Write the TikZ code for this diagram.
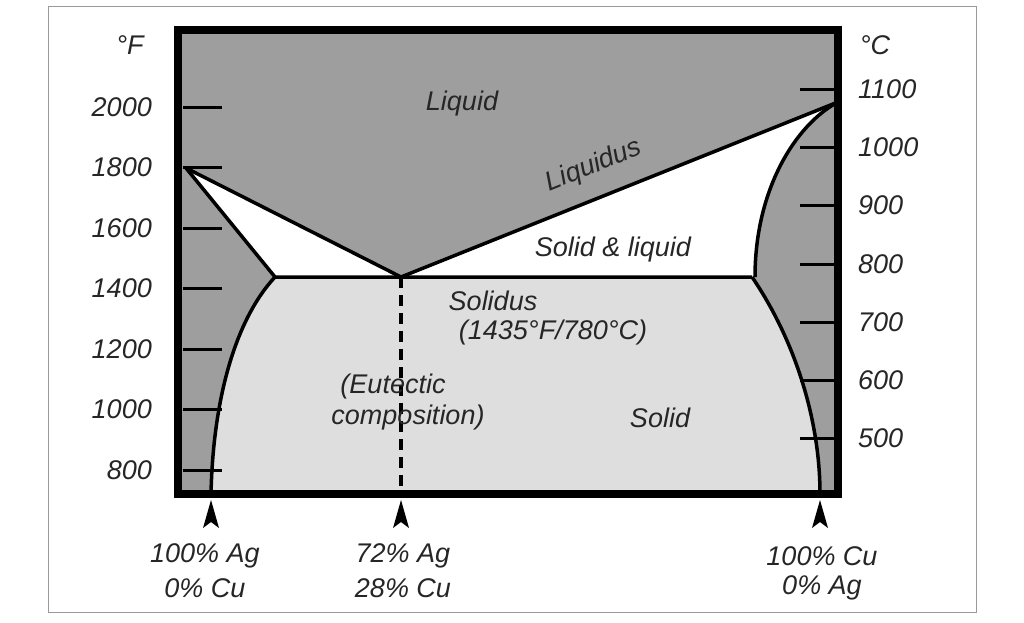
\documentclass[tikz,border=0pt]{standalone}
\usepackage{fontspec}
\setmainfont{Liberation Sans}
\begin{document}
\begin{tikzpicture}[x=1pt,y=-1pt,
  lbl/.style={font=\fontsize{27}{32}\selectfont\itshape,text=black!85,inner sep=0pt},
  ph/.style={line width=3.5pt,line join=round},
  tk/.style={line width=3pt},
  mk/.style={fill=black}]
\useasboundingbox (0,0) rectangle (1024,622);
\fill[white] (0,0) rectangle (1024,622);
\draw[black!40,line width=1pt] (48,6) rectangle (976,612);
% regions
\fill[black!38] (178,30) rectangle (838,494);
\fill[white] (186,168)--(401,277)--(275,277)--cycle;
\fill[white] (401,277)--(838,102) .. controls (795,125) and (755,190) .. (755,277) -- cycle;
\fill[black!13] (275,277)--(752,277) .. controls (795,340) and (820,420) .. (820,494) -- (211,494) .. controls (213,400) and (235,320) .. (275,277) -- cycle;
% ticks
\foreach \y in {107,167,228,288,349,409,470} \draw[tk] (183,\y)--(222,\y);
\foreach \y in {89,147,205,264,322,380,438} \draw[tk] (800,\y)--(838,\y);
% phase lines
\coordinate (A) at (186,168); \coordinate (E) at (401,277); \coordinate (B) at (838,102);
\coordinate (S1) at (275,277); \coordinate (S2) at (752,277);
\draw[ph] (A)--(E)--(B);
\draw[ph] (A)--(S1)--(S2);
\draw[ph] (S1) .. controls (235,320) and (213,400) .. (211,494);
\draw[ph] (B) .. controls (795,125) and (755,190) .. (755,277);
\draw[ph] (S2) .. controls (795,340) and (820,420) .. (820,494);
\draw[line width=3.5pt,dash pattern=on 11pt off 7pt] (E)--(401,494);
% frame
\draw[line width=8pt] (178,30) rectangle (838,494);
% markers
\foreach \x in {211,401,820} \fill[mk] (\x,500)--(\x+8,528)--(\x,522)--(\x-8,528)--cycle;
% labels
\foreach \y/\t in {107/2000,167/1800,228/1600,288/1400,349/1200,409/1000,470/800}
  \node[lbl,anchor=east] at (152,\y) {\t};
\foreach \y/\t in {89/1100,147/1000,205/900,264/800,322/700,380/600,438/500}
  \node[lbl,anchor=west] at (858,\y) {\t};
\node[lbl] (uf) at (130,45) {°F};
\node[lbl] (uc) at (875,45) {°C};
\node[lbl] (liq) at (462,104) {Liquid};
\node[lbl,rotate=21.8] (liqd) at (594,166) {Liquidus};
\node[lbl] (sl) at (613,250) {Solid \& liquid};
\node[lbl] (sol) at (493,301) {Solidus};
\node[lbl] (solt) at (553,333) {(1435°F/780°C)};
\node[lbl] (eu1) at (393,387) {(Eutectic};
\node[lbl] (eu2) at (408,418) {composition)};
\node[lbl] (sd) at (660,418) {Solid};
\node[lbl] (c1a) at (205,556) {100\% Ag};
\node[lbl] (c1b) at (205,588) {0\% Cu};
\node[lbl] (c2a) at (403,556) {72\% Ag};
\node[lbl] (c2b) at (403,588) {28\% Cu};
\node[lbl] (c3a) at (822,556) {100\% Cu};
\node[lbl] (c3b) at (822,588) {0\% Ag};
\end{tikzpicture}
\end{document}
